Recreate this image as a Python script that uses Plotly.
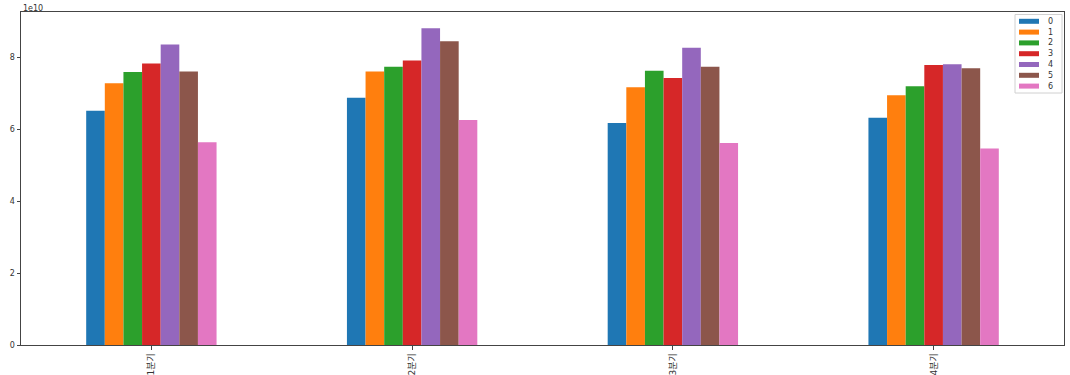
import plotly.graph_objects as go

categories = ["1분기", "2분기", "3분기", "4분기"]
series_names = ["0", "1", "2", "3", "4", "5", "6"]
values = [
    [6.51e10, 6.87e10, 6.17e10, 6.31e10],
    [7.27e10, 7.60e10, 7.16e10, 6.94e10],
    [7.58e10, 7.73e10, 7.62e10, 7.19e10],
    [7.82e10, 7.90e10, 7.42e10, 7.78e10],
    [8.35e10, 8.80e10, 8.26e10, 7.80e10],
    [7.60e10, 8.44e10, 7.73e10, 7.69e10],
    [5.63e10, 6.25e10, 5.61e10, 5.46e10],
]
colors = ["#1f77b4", "#ff7f0e", "#2ca02c", "#d62728", "#9467bd", "#8c564b", "#e377c2"]
y_ticks = [0, 2e10, 4e10, 6e10, 8e10]
y_tick_labels = ["0", "2", "4", "6", "8"]

font_family = "DejaVu Sans, Noto Sans CJK KR, sans-serif"
W, H = 1070, 375
ML, MR, MT, MB = 21, 6, 12, 30
PW, PH = W - ML - MR, H - MT - MB


def px_x(px):
    return (px - ML) / PW


def px_y(py):
    return (H - MB - py) / PH


fig = go.Figure()
for name, vals, c in zip(series_names, values, colors):
    fig.add_trace(go.Bar(x=categories, y=vals, name=name, showlegend=False,
                         marker=dict(color=c, line=dict(width=0))))

# manual legend (matplotlib style)
shapes = [dict(type="rect", xref="paper", yref="paper",
               x0=px_x(1015), x1=px_x(1062), y0=px_y(93), y1=px_y(14.5),
               line=dict(color="#d0d0d0", width=1), fillcolor="white", layer="above")]
annotations = []
for i, (name, c) in enumerate(zip(series_names, colors)):
    cy = 21.3 + i * 10.8
    shapes.append(dict(type="rect", xref="paper", yref="paper",
                       x0=px_x(1019), x1=px_x(1039), y0=px_y(cy + 2.5), y1=px_y(cy - 2.5),
                       line=dict(width=0), fillcolor=c, layer="above"))
    annotations.append(dict(text=name, x=px_x(1046), y=px_y(cy), xref="paper", yref="paper",
                            xanchor="left", yanchor="middle", showarrow=False,
                            font=dict(size=8, color="#333333")))

annotations.append(dict(text="1e10", x=0, y=1, xref="paper", yref="paper", xanchor="left",
                        yanchor="bottom", showarrow=False, font=dict(size=8, color="#333333"),
                        yshift=-3))

fig.update_layout(
    width=W, height=H,
    margin=dict(l=ML, r=MR, t=MT, b=MB, autoexpand=False),
    paper_bgcolor="white", plot_bgcolor="white",
    barmode="group", bargap=0.5, bargroupgap=0,
    showlegend=False,
    font=dict(family=font_family, size=8, color="#333333"),
    xaxis=dict(range=[-0.5, 3.5], showline=True, linecolor="#444444", linewidth=1, mirror=True,
               ticks="outside", ticklen=3.5, tickcolor="#444444", tickangle=-90, showgrid=False,
               automargin=False, tickfont=dict(size=9)),
    yaxis=dict(range=[0, 9.25e10], showline=True, linecolor="#444444", linewidth=1, mirror=True,
               ticks="outside", ticklen=3.5, tickcolor="#444444", showgrid=False, zeroline=False,
               automargin=False, tickvals=y_ticks, ticktext=y_tick_labels, tickfont=dict(size=8)),
    shapes=shapes,
    annotations=annotations,
)

fig.write_html("out.html", config={"displayModeBar": False})

with open("out.html", encoding="utf-8") as f:
    html = f.read()
html = html.replace("<head>", "<head><style>html,body{margin:0;padding:0;}</style>", 1)
with open("out.html", "w", encoding="utf-8") as f:
    f.write(html)
